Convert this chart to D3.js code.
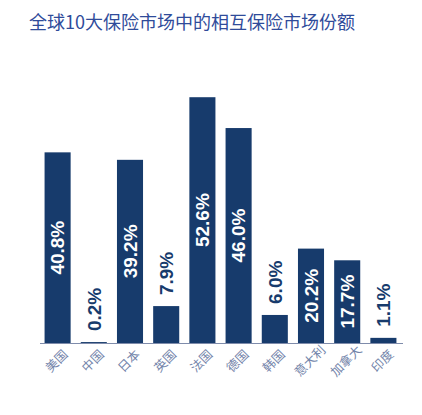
<!DOCTYPE html>
<html>
<head>
<meta charset="utf-8">
<script src="https://cdn.jsdelivr.net/npm/d3@7"></script>
<style>
  html, body { margin: 0; padding: 0; background: #ffffff; }
  svg { display: block; }
</style>
</head>
<body>
<svg id="chart" width="422" height="415"></svg>
<script>
// Mutual insurance share in the 10 largest insurance markets (%)
const title = "全球10大保险市场中的相互保险市场份额";
const countries = ["美国", "中国", "日本", "英国", "法国", "德国", "韩国", "意大利", "加拿大", "印度"];
const shares = [40.8, 0.2, 39.2, 7.9, 52.6, 46.0, 6.0, 20.2, 17.7, 1.1];

const data = countries.map((c, i) => ({ country: c, value: shares[i] }));

const svg = d3.select("#chart");
const barColor = "#173b6c";
const baseY = 343;

const x = d3.scaleBand()
  .domain(countries)
  .range([39.5, 401.5])
  .paddingInner(0.28)
  .paddingOuter(0.14);

const y = d3.scaleLinear()
  .domain([0, 53.5])
  .range([baseY, 93]);

// title
svg.append("text")
  .attr("x", 29)
  .attr("y", 29)
  .attr("fill", "#2f4b9a")
  .attr("font-family", "'Noto Sans CJK SC', sans-serif")
  .attr("font-size", 18)
  .text(title);

// bars
svg.append("g")
  .selectAll("rect")
  .data(data)
  .join("rect")
  .attr("x", d => x(d.country))
  .attr("y", d => y(d.value))
  .attr("width", x.bandwidth())
  .attr("height", d => y(0) - y(d.value))
  .attr("fill", barColor);

// baseline
svg.append("line")
  .attr("x1", 40)
  .attr("x2", 403)
  .attr("y1", baseY + 0.5)
  .attr("y2", baseY + 0.5)
  .attr("stroke", "#7f8cab")
  .attr("stroke-width", 1);

// value labels: centred inside tall bars, above short ones
const inside = d => d.value >= 10;
svg.append("g")
  .selectAll("text")
  .data(data)
  .join("text")
  .attr("transform", d => {
    const cx = x(d.country) + x.bandwidth() / 2;
    const cy = inside(d) ? (y(d.value) + y(0)) / 2 : y(d.value) - 11;
    return `translate(${cx},${cy}) rotate(-90)`;
  })
  .attr("text-anchor", d => inside(d) ? "middle" : "start")
  .attr("dy", "0.36em")
  .attr("fill", d => inside(d) ? "#ffffff" : barColor)
  .attr("font-family", "'Liberation Sans', Arial, sans-serif")
  .attr("font-weight", "bold")
  .attr("font-size", 19)
  .text(d => d.value.toFixed(1) + "%");

// category labels
svg.append("g")
  .selectAll("text")
  .data(data)
  .join("text")
  .attr("transform", d => `translate(${x(d.country) + x.bandwidth() / 2 - 1},361) rotate(-45)`)
  .attr("text-anchor", "middle")
  .attr("dy", "0.35em")
  .attr("fill", "#7384aa")
  .attr("font-family", "'Noto Sans CJK SC', sans-serif")
  .attr("font-size", 12.5)
  .text(d => d.country);
</script>
</body>
</html>
